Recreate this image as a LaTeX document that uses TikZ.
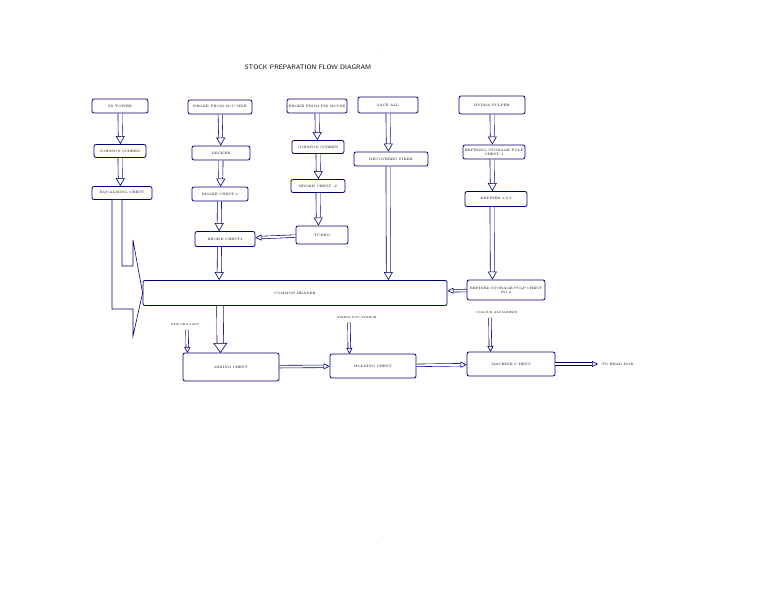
\documentclass[tikz,border=0pt]{standalone}
\usepackage{tikz}
\usetikzlibrary{arrows.meta}

\begin{document}
\begin{tikzpicture}[x=1pt,y=-1pt,
  box/.style={draw=blue!45!black,thick,rounded corners=2pt,fill=white,align=center,
    font=\fontsize{3.3}{3.8}\selectfont,inner sep=1pt},
  fat/.style={draw=blue!45!black,double=white,double distance=3.5pt,semithick,
    -{Triangle[open,width=9pt,length=8pt]}},
  thin/.style={draw=blue!45!black,double=white,double distance=2pt,semithick,
    -{Triangle[open,width=6pt,length=6pt]}},
  lbl/.style={font=\fontsize{2.8}{3}\selectfont}]
\useasboundingbox (0,0) rectangle (768,594);
\def\colr{blue!45!black}

\node[font=\sffamily\fontsize{6.5}{7}\selectfont] (title) at (308,67) {STOCK PREPARATION FLOW DIAGRAM};
\node[lbl] (topmark) at (383,55) {--};
\node[lbl] (botmark) at (383,537) {--};

% top row
\node[box,minimum width=56pt,minimum height=14pt] (sd) at (120,106) {SD TOWER};
\node[box,minimum width=64pt,minimum height=14pt] (mcs) at (220,107) {BROKE FROM M/C SIDE};
\node[box,minimum width=60pt,minimum height=14pt] (fin) at (317,106) {BROKE FROM FIN HOUSE};
\node[box,minimum width=60pt,minimum height=16pt] (save) at (388,105) {SAVE ALL};
\node[box,minimum width=66pt,minimum height=18pt] (hydra) at (492,105) {HYDRA PULPER};

% second row
\node[box,minimum width=52pt,minimum height=13pt] (js1) at (120,151) {JOHNSON SCREEN};
\node[box,minimum width=58pt,minimum height=14pt] (deck) at (221,153) {DECKER};
\node[box,minimum width=52pt,minimum height=13pt] (js2) at (318,147) {JOHNSON SCREEN};
\node[box,minimum width=74pt,minimum height=14pt] (rec) at (391,159) {RECOVERED FIBER};
\node[box,minimum width=62pt,minimum height=14pt] (rsp1) at (494,152) {REFINING STORAGE PULP\\CHEST 1};

% third row
\node[box,minimum width=60pt,minimum height=13pt] (eq) at (122,193) {EQUALISING CHEST};
\node[box,minimum width=56pt,minimum height=14pt] (bc1) at (220,194) {BROKE CHEST-1};
\node[box,minimum width=54pt,minimum height=13pt] (bc2) at (318,186) {BROKE CHEST -2};
\node[box,minimum width=62pt,minimum height=15pt] (ref) at (496,199) {REFINER 1,2,3};

% fourth row
\node[box,minimum width=60pt,minimum height=15pt] (bc3) at (225,239) {BROKE CHEST3};
\node[box,minimum width=52pt,minimum height=18pt] (turbo) at (322,235) {TURBO};

% header
\node[box,minimum width=304pt,minimum height=25pt] (hdr) at (295,293) {COMMON HEADER};
\node[box,text width=76pt,minimum height=20pt] (rsp2) at (506,290) {REFINED STORAGE PULP CHEST\\NO.2};

% bottom row
\node[box,minimum width=96pt,minimum height=28pt] (mix) at (231,367) {MIXING CHEST};
\node[box,minimum width=86pt,minimum height=24pt] (hold) at (373,366) {HOLDING CHEST};
\node[box,minimum width=88pt,minimum height=24pt] (mach) at (511,364) {MACHINE C HEST};
\node[font=\fontsize{3.3}{4}\selectfont,anchor=west] (head) at (598,364) {TO HEAD BOX};

\node[lbl] (dye) at (185,325) {DYE,OBA,SALT};
\node[lbl] (fix) at (357,318) {FIXING PCC STARCH};
\node[lbl] (col) at (497,313) {COLOUR,ALUM,RESIN};

% flows
\draw[fat] (sd.south) -- ([xshift=0.4pt]js1.north);
\draw[fat] (js1.south) -- ([xshift=0.4pt]eq.north -| js1);
\draw[fat] (mcs) -- (deck);
\draw[fat] (deck.south) -- ([xshift=-0.4pt]deck.south |- bc1.north);
\draw[fat] ([xshift=-0.5pt]bc1.south) -- ([xshift=-0.9pt]bc1.south |- bc3.north);
\draw[fat] (fin.south) -- ([xshift=0.4pt]fin.south |- js2.north);
\draw[fat] (js2.south) -- ([xshift=0.4pt]js2.south |- bc2.north);
\draw[fat] (bc2.south) -- ([xshift=0.4pt]bc2.south |- turbo.north);
\draw[thin] (turbo) -- (bc3);
\draw[fat] ([xshift=-0.5pt]bc3.south -| bc1) -- ([xshift=-0.9pt]bc1 |- hdr.north);
\draw[fat] (rec.south -| save) -- ([xshift=0.4pt]save |- hdr.north);
\draw[fat] (save.south) -- ([xshift=0.4pt]save.south |- rec.north);
\draw[fat] (hydra.south) -- ([xshift=0.4pt]hydra |- rsp1.north);
\draw[fat] (rsp1.south -| hydra) -- ([xshift=0.4pt]hydra |- ref.north);
\draw[fat] (ref.south -| hydra) -- ([xshift=0.4pt]hydra |- rsp2.north);
\draw[thin] (rsp2) -- (hdr);
\draw[fat,double distance=6pt,-{Triangle[open,width=14pt,length=10pt]}] (hdr.south -| 220,0) -- (220.4,353);
\draw[thin] (dye.south -| 187,0) -- (187.4,353);
\draw[thin] (fix.south -| 349,0) -- (349.4,354);
\draw[thin] (col.south -| 490,0) -- (490.4,352);
\draw[thin] (mix) -- (hold);
\draw[thin] (hold) -- (mach);
\draw[thin] (mach) -- (head);

% feed into header from equalising chest
\draw[\colr,semithick,fill=white] (eq.south -| 112,0) -- (112,309) -- (133,309) -- (133,336)
  -- (hdr.west) -- (133,240) -- (133,266) -- (122,266) -- (eq.south -| 122,0);
\end{tikzpicture}
\end{document}
